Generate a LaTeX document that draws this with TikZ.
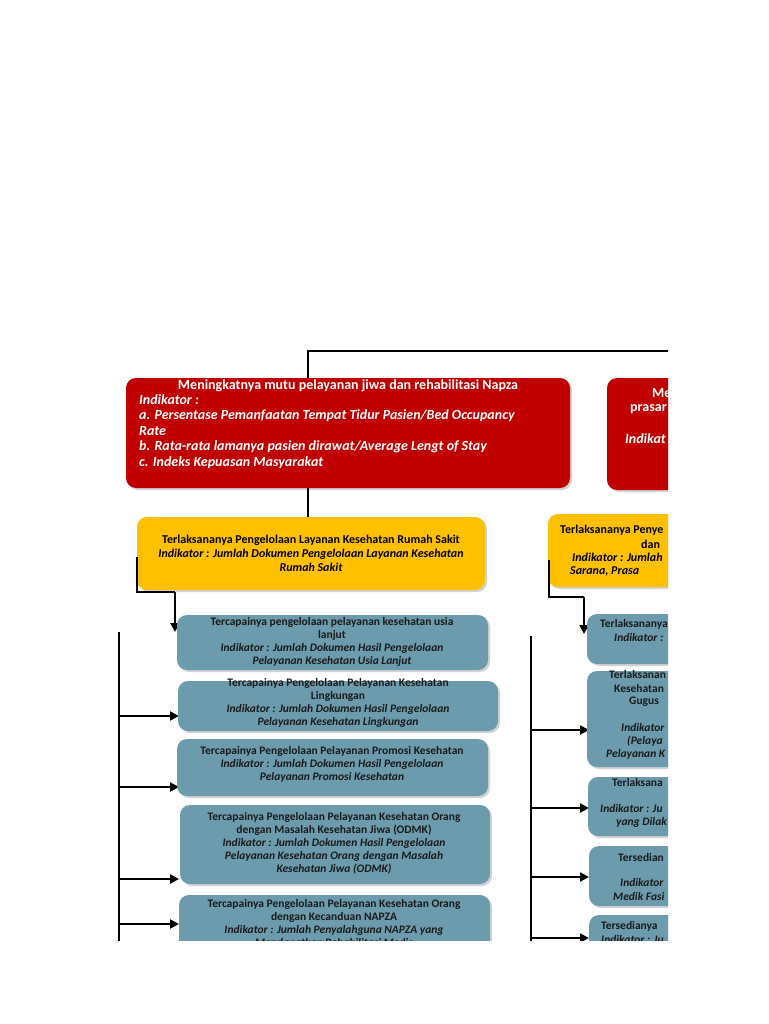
\documentclass[tikz,border=0pt]{standalone}
\usepackage{fontspec}
\setmainfont{Carlito}
\usetikzlibrary{shadows,arrows.meta}
\definecolor{rbox}{HTML}{C00000}
\definecolor{ybox}{HTML}{FFC000}
\definecolor{bbox}{HTML}{6C9BAD}
\definecolor{btxt}{HTML}{1A1A1A}
\begin{document}
\begin{tikzpicture}[x=1pt,y=-1pt,
  boxbase/.style={rounded corners=10pt,drop shadow={opacity=0.35,shadow xshift=2pt,shadow yshift=-2pt}},
  conn/.style={line width=2.6pt},
  arr/.style={line width=2.6pt,-{Triangle[length=9pt,width=9pt]}},
  rt/.style={text=white,font=\fontsize{14}{15.5}\selectfont\bfseries,inner sep=0pt},
  yt/.style={font=\fontsize{12}{14}\selectfont\bfseries,inner sep=0pt,align=center},
  bt/.style={text=btxt,font=\fontsize{11.5}{13}\selectfont\bfseries,inner sep=0pt,align=center},
  frag/.style={anchor=west,inner sep=0pt}]
\useasboundingbox (0,0) rectangle (768,1024);
\fill[white] (0,0) rectangle (768,1024);
\begin{scope}
\clip (0,0) rectangle (668,940);
% top connector
\coordinate (top1) at (308,378);
\coordinate (topc) at (308,351);
\coordinate (topr) at (680,351);
\draw[conn] (top1) -- (topc) -- (topr);
% red boxes
\fill[rbox,boxbase] (126,378) rectangle (570,488);
\node (r1) at (348,488) {};
\fill[rbox,boxbase] (607,378) rectangle (720,490);
\node[rt] (r1t) at (348,386) {Meningkatnya mutu pelayanan jiwa dan rehabilitasi Napza};
\node[rt,anchor=north west,align=left] (r1b) at (139,394) {\itshape Indikator :\\\itshape a. Persentase Pemanfaatan Tempat Tidur Pasien/Bed Occupancy\\\itshape Rate\\\itshape b. Rata-rata lamanya pasien dirawat/Average Lengt of Stay\\\itshape c. Indeks Kepuasan Masyarakat};
\node[rt,frag] (r2a) at (652,393) {Me};
\node[rt,frag] (r2b) at (630,409) {prasar};
\node[rt,frag] (r2c) at (625,439) {\itshape Indikat};
% yellow boxes
\coordinate (y1top) at (308,517);
\draw[conn] (308,488) -- (y1top);
\fill[ybox,boxbase] (137,517) rectangle (485,590);
\node[yt] (y1t) at (311,553) {Terlaksananya Pengelolaan Layanan Kesehatan Rumah Sakit\\\itshape Indikator : Jumlah Dokumen Pengelolaan Layanan Kesehatan\\\itshape Rumah Sakit};
\fill[ybox,boxbase] (548,514) rectangle (720,587);
\node[yt,frag] (y2a) at (560,530) {Terlaksananya Penye};
\node[yt,frag] (y2b) at (641,544) {dan};
\node[yt,frag] (y2c) at (572,557) {\itshape Indikator : Jumlah};
\node[yt,frag] (y2d) at (570,571) {\itshape Sarana, Prasa};
% left connectors
\coordinate (la) at (137,557);
\coordinate (lb) at (137,592);
\coordinate (lc) at (175,592);
\coordinate (ld) at (175,632);
\draw[conn] (la) -- (lb) -- (lc);
\draw[arr] (lc) -- (ld);
\coordinate (bus1) at (119,632);
\coordinate (bus2) at (119,945);
\draw[conn] (bus1) -- (bus2);
\foreach \yy in {716,787,879,924} \draw[arr] (119,\yy) -- (179,\yy);
% left blue boxes
\fill[bbox,boxbase] (177,615) rectangle (488,670);
\node[bt] (b1) at (332,642) {Tercapainya pengelolaan pelayanan kesehatan usia\\lanjut\\\itshape Indikator : Jumlah Dokumen Hasil Pengelolaan\\\itshape Pelayanan Kesehatan Usia Lanjut};
\fill[bbox,boxbase] (178,681) rectangle (498,731);
\node[bt] (b2) at (338,703) {Tercapainya Pengelolaan Pelayanan Kesehatan\\Lingkungan\\\itshape Indikator : Jumlah Dokumen Hasil Pengelolaan\\\itshape Pelayanan Kesehatan Lingkungan};
\fill[bbox,boxbase] (177,739) rectangle (488,796);
\node[bt] (b3) at (332,764) {Tercapainya Pengelolaan Pelayanan Promosi Kesehatan\\\itshape Indikator : Jumlah Dokumen Hasil Pengelolaan\\\itshape Pelayanan Promosi Kesehatan};
\fill[bbox,boxbase] (180,805) rectangle (490,884);
\node[bt] (b4) at (334,843) {Tercapainya Pengelolaan Pelayanan Kesehatan Orang\\dengan Masalah Kesehatan Jiwa (ODMK)\\\itshape Indikator : Jumlah Dokumen Hasil Pengelolaan\\\itshape Pelayanan Kesehatan Orang dengan Masalah\\\itshape Kesehatan Jiwa (ODMK)};
\fill[bbox,boxbase] (179,895) rectangle (490,990);
\node[bt,anchor=north] (b5) at (334,899) {Tercapainya Pengelolaan Pelayanan Kesehatan Orang\\dengan Kecanduan NAPZA\\\itshape Indikator : Jumlah Penyalahguna NAPZA yang\\\itshape Mendapatkan Rehabilitasi Medis};
% right connectors
\coordinate (ra) at (549,560);
\coordinate (rb) at (549,597);
\coordinate (rc) at (584,597);
\coordinate (rd) at (584,634);
\draw[conn] (ra) -- (rb) -- (rc);
\draw[arr] (rc) -- (rd);
\coordinate (rbus1) at (531,636);
\coordinate (rbus2) at (531,945);
\draw[conn] (rbus1) -- (rbus2);
\foreach \yy in {730,808,877,938} \draw[arr] (531,\yy) -- (589,\yy);
% right blue boxes
\fill[bbox,boxbase] (587,614) rectangle (720,664);
\node[bt,frag] (c1a) at (600,624) {Terlaksananya};
\node[bt,frag] (c1b) at (614,638) {\itshape Indikator :};
\fill[bbox,boxbase] (587,671) rectangle (720,767);
\node[bt,frag] (c2a) at (609,675) {Terlaksanan};
\node[bt,frag] (c2b) at (614,689) {Kesehatan};
\node[bt,frag] (c2c) at (629,702) {Gugus};
\node[bt,frag] (c2d) at (621,727) {\itshape Indikator};
\node[bt,frag] (c2e) at (627,741) {\itshape (Pelaya};
\node[bt,frag] (c2f) at (606,754) {\itshape Pelayanan K};
\fill[bbox,boxbase] (588,777) rectangle (720,836);
\node[bt,frag] (c3a) at (612,782) {Terlaksana};
\node[bt,frag] (c3b) at (600,808) {\itshape Indikator : Ju};
\node[bt,frag] (c3c) at (616,822) {\itshape yang Dilak};
\fill[bbox,boxbase] (589,846) rectangle (720,906);
\node[bt,frag] (c4a) at (618,857) {Tersedian};
\node[bt,frag] (c4b) at (620,882) {\itshape Indikator};
\node[bt,frag] (c4c) at (613,896) {\itshape Medik Fasi};
\fill[bbox,boxbase] (589,915) rectangle (720,990);
\node[bt,frag] (c5a) at (601,926) {Tersedianya};
\node[bt,frag] (c5b) at (601,939) {\itshape Indikator : Ju};
\end{scope}
\end{tikzpicture}
\end{document}
